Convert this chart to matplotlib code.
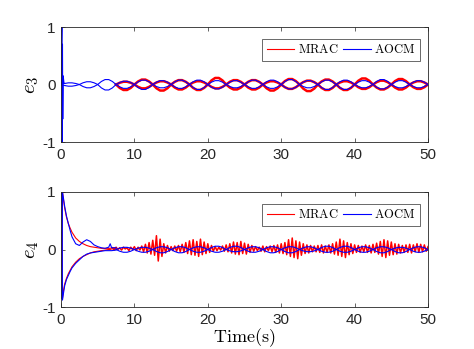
import numpy as np
import matplotlib
matplotlib.use('Agg')
import matplotlib.pyplot as plt
from matplotlib.lines import Line2D

plt.rcParams['font.family'] = ['Liberation Sans', 'DejaVu Sans']
plt.rcParams['mathtext.fontset'] = 'cm'
plt.rcParams['axes.unicode_minus'] = False

# ---- data ----
# e3, start-up spike of AOCM
t_spike3 = [0.0, 0.12, 0.16, 0.2, 0.24, 0.3, 0.4, 0.5]
e3_spike = [0.0, 1.0, -1.0, 0.7, -0.6, 0.15, 0.03, 0.018]

# e3, AOCM (two components), t = 0.5 ... 50 every 0.5 s
t_grid = np.linspace(0.5, 50, 100)
e3_aocm_a = [0.018, 0.029, 0.029, 0.018, 0, -0.035, -0.057, -0.057, -0.035, 0,
             0.053, 0.086, 0.086, 0.053, 0, -0.041, -0.067, -0.067, -0.041, 0,
             0.047, 0.076, 0.076, 0.047, 0, -0.035, -0.057, -0.057, -0.035, 0,
             0.047, 0.076, 0.076, 0.047, 0, -0.053, -0.086, -0.086, -0.053, 0,
             0.041, 0.067, 0.067, 0.041, 0, -0.035, -0.057, -0.057, -0.035, 0,
             0.047, 0.076, 0.076, 0.047, 0, -0.041, -0.067, -0.067, -0.041, 0,
             0.053, 0.086, 0.086, 0.053, 0, -0.035, -0.057, -0.057, -0.035, 0,
             0.047, 0.076, 0.076, 0.047, 0, -0.053, -0.086, -0.086, -0.053, 0,
             0.041, 0.067, 0.067, 0.041, 0, -0.047, -0.076, -0.076, -0.047, 0,
             0.041, 0.067, 0.067, 0.041, 0, -0.035, -0.057, -0.057, -0.035, 0]
e3_aocm_b = [-0.018, -0.029, -0.029, -0.018, 0, 0.03, 0.048, 0.048, 0.03, 0,
             -0.059, -0.095, -0.095, -0.059, 0, 0.035, 0.057, 0.057, 0.035, 0,
             -0.053, -0.086, -0.086, -0.053, 0, 0.041, 0.067, 0.067, 0.041, 0,
             -0.041, -0.067, -0.067, -0.041, 0, 0.047, 0.076, 0.076, 0.047, 0,
             -0.047, -0.076, -0.076, -0.047, 0, 0.041, 0.067, 0.067, 0.041, 0,
             -0.041, -0.067, -0.067, -0.041, 0, 0.047, 0.076, 0.076, 0.047, 0,
             -0.047, -0.076, -0.076, -0.047, 0, 0.041, 0.067, 0.067, 0.041, 0,
             -0.053, -0.086, -0.086, -0.053, 0, 0.047, 0.076, 0.076, 0.047, 0,
             -0.035, -0.057, -0.057, -0.035, 0, 0.053, 0.086, 0.086, 0.053, 0,
             -0.035, -0.057, -0.057, -0.035, 0, 0.041, 0.067, 0.067, 0.041, 0]

# e3, MRAC (two components), t = 7.5 ... 50 every 0.5 s
t_late = np.linspace(7.5, 50, 86)
e3_mrac_a = [0,
             -0.059, -0.095, -0.095, -0.059, 0, 0.053, 0.086, 0.086, 0.053, 0,
             -0.065, -0.105, -0.105, -0.065, 0, 0.047, 0.076, 0.076, 0.047, 0,
             -0.059, -0.095, -0.095, -0.059, 0, 0.071, 0.114, 0.114, 0.071, 0,
             -0.053, -0.086, -0.086, -0.053, 0, 0.047, 0.076, 0.076, 0.047, 0,
             -0.065, -0.105, -0.105, -0.065, 0, 0.059, 0.095, 0.095, 0.059, 0,
             -0.071, -0.114, -0.114, -0.071, 0, 0.053, 0.086, 0.086, 0.053, 0,
             -0.059, -0.095, -0.095, -0.059, 0, 0.065, 0.105, 0.105, 0.065, 0,
             -0.053, -0.086, -0.086, -0.053, 0, 0.059, 0.095, 0.095, 0.059, 0,
             -0.047, -0.076, -0.076, -0.047, 0]
e3_mrac_b = [0,
             0.03, 0.048, 0.048, 0.03, 0, -0.041, -0.067, -0.067, -0.041, 0,
             0.035, 0.057, 0.057, 0.035, 0, -0.053, -0.086, -0.086, -0.053, 0,
             0.035, 0.057, 0.057, 0.035, 0, -0.041, -0.067, -0.067, -0.041, 0,
             0.047, 0.076, 0.076, 0.047, 0, -0.053, -0.086, -0.086, -0.053, 0,
             0.035, 0.057, 0.057, 0.035, 0, -0.047, -0.076, -0.076, -0.047, 0,
             0.041, 0.067, 0.067, 0.041, 0, -0.059, -0.095, -0.095, -0.059, 0,
             0.035, 0.057, 0.057, 0.035, 0, -0.047, -0.076, -0.076, -0.047, 0,
             0.041, 0.067, 0.067, 0.041, 0, -0.053, -0.086, -0.086, -0.053, 0,
             0.035, 0.057, 0.057, 0.035, 0]

# e4, transient part (t = 0.1 ... 7.5)
t_early = [0.1, 0.2, 0.35, 0.5, 0.75, 1.0, 1.25, 1.5, 2.0, 2.5, 3.0,
           3.5, 4.0, 4.5, 5.0, 5.5, 6.0, 6.5, 6.7, 6.9, 7.5]
e4_mrac_up = [-0.3, 1.0, 0.85, 0.72, 0.56, 0.45, 0.37, 0.3, 0.2, 0.14, 0.1,
              0.07, 0.05, 0.04, 0.03, 0.02, 0.02, 0.02, 0.02, 0.03, 0.03]
e4_mrac_lo = [0.3, -0.85, -0.7, -0.6, -0.5, -0.42, -0.36, -0.3, -0.22, -0.16, -0.12,
              -0.09, -0.06, -0.04, -0.03, -0.02, -0.01, 0.0, 0.0, 0.01, 0.02]
e4_aocm_up = [-0.85, 1.0, 0.88, 0.75, 0.58, 0.45, 0.33, 0.22, 0.1, 0.07, 0.13,
              0.17, 0.14, 0.08, 0.05, 0.03, 0.02, 0.04, 0.1, 0.03, 0.03]
e4_aocm_lo = [1.0, -0.88, -0.75, -0.63, -0.52, -0.45, -0.38, -0.32, -0.24, -0.18, -0.12,
              -0.08, -0.06, -0.05, -0.04, -0.03, -0.02, -0.02, -0.02, -0.02, -0.01]

# e4, AOCM steady part, t = 7.5 ... 50 every 0.5 s
e4_aocm_a = [0,
             0.024, 0.038, 0.038, 0.024, 0, -0.03, -0.048, -0.048, -0.03, 0,
             0.03, 0.048, 0.048, 0.03, 0, -0.035, -0.057, -0.057, -0.035, 0,
             0.03, 0.048, 0.048, 0.03, 0, -0.03, -0.048, -0.048, -0.03, 0,
             0.035, 0.057, 0.057, 0.035, 0, -0.03, -0.048, -0.048, -0.03, 0,
             0.03, 0.048, 0.048, 0.03, 0, -0.035, -0.057, -0.057, -0.035, 0,
             0.03, 0.048, 0.048, 0.03, 0, -0.03, -0.048, -0.048, -0.03, 0,
             0.035, 0.057, 0.057, 0.035, 0, -0.03, -0.048, -0.048, -0.03, 0,
             0.03, 0.048, 0.048, 0.03, 0, -0.035, -0.057, -0.057, -0.035, 0,
             0.03, 0.048, 0.048, 0.03, 0]
e4_aocm_b = [0,
             -0.03, -0.048, -0.048, -0.03, 0, 0.024, 0.038, 0.038, 0.024, 0,
             -0.035, -0.057, -0.057, -0.035, 0, 0.03, 0.048, 0.048, 0.03, 0,
             -0.03, -0.048, -0.048, -0.03, 0, 0.035, 0.057, 0.057, 0.035, 0,
             -0.024, -0.038, -0.038, -0.024, 0, 0.03, 0.048, 0.048, 0.03, 0,
             -0.035, -0.057, -0.057, -0.035, 0, 0.03, 0.048, 0.048, 0.03, 0,
             -0.024, -0.038, -0.038, -0.024, 0, 0.035, 0.057, 0.057, 0.035, 0,
             -0.03, -0.048, -0.048, -0.03, 0, 0.03, 0.048, 0.048, 0.03, 0,
             -0.035, -0.057, -0.057, -0.035, 0, 0.024, 0.038, 0.038, 0.024, 0,
             -0.03, -0.048, -0.048, -0.03, 0]

# e4, MRAC noisy part, t = 7 ... 50 every 0.25 s
t_noise = np.linspace(7, 50, 173)
e4_mrac_noise = [0.03, -0.01, 0.04, 0.00, 0.03, -0.01, 0.04, 0.01,
                 0.03, -0.02, 0.04, 0.00, 0.05, -0.02, 0.04, -0.01,
                 0.06, -0.04, 0.09, -0.06, 0.12, -0.08, 0.16, -0.10,
                 0.24, -0.20, 0.18, -0.12, 0.10, -0.06, 0.07, -0.03,
                 0.05, -0.02, 0.06, -0.03, 0.07, -0.04, 0.09, -0.05,
                 0.12, -0.07, 0.15, -0.09, 0.17, -0.10, 0.14, -0.12,
                 0.18, -0.09, 0.13, -0.07, 0.10, -0.05, 0.07, -0.03,
                 0.05, -0.02, 0.04, -0.01, 0.06, -0.03, 0.08, -0.04,
                 0.10, -0.06, 0.13, -0.08, 0.12, -0.09, 0.14, -0.07,
                 0.11, -0.08, 0.09, -0.05, 0.07, -0.03, 0.05, -0.02,
                 0.04, -0.03, 0.06, -0.04, 0.05, -0.02, 0.06, -0.04,
                 0.07, -0.05, 0.08, -0.06, 0.10, -0.07, 0.12, -0.09,
                 0.17, -0.12, 0.20, -0.14, 0.15, -0.16, 0.13, -0.10,
                 0.10, -0.07, 0.08, -0.06, 0.07, -0.04, 0.06, -0.04,
                 0.07, -0.05, 0.08, -0.06, 0.06, -0.05, 0.08, -0.06,
                 0.10, -0.08, 0.13, -0.10, 0.18, -0.12, 0.15, -0.14,
                 0.12, -0.09, 0.10, -0.07, 0.08, -0.05, 0.07, -0.05,
                 0.06, -0.04, 0.08, -0.05, 0.07, -0.06, 0.09, -0.05,
                 0.11, -0.08, 0.14, -0.12, 0.17, -0.14, 0.15, -0.10,
                 0.13, -0.09, 0.10, -0.08, 0.09, -0.06, 0.07, -0.05,
                 0.08, -0.05, 0.09, -0.06, 0.08, -0.04, 0.10, -0.05,
                 0.09, -0.04, 0.08, -0.03, 0.05]

labels = [r'$\mathrm{MRAC}$', r'$\mathrm{AOCM}$']
xticks = [0, 10, 20, 30, 40, 50]
yticks = [-1, 0, 1]

fig = plt.figure(figsize=(4.74, 3.49), dpi=100)
ax1 = fig.add_axes([0.1287, 0.5931, 0.7743, 0.3295])
ax2 = fig.add_axes([0.1287, 0.1203, 0.7743, 0.3296])

# top: e3
ax1.plot(t_late, e3_mrac_a, color='r', lw=1.8)
ax1.plot(t_late, e3_mrac_b, color='r', lw=1.8)
ax1.plot(t_spike3, e3_spike, color='b', lw=0.8)
ax1.plot(t_grid, e3_aocm_a, color='b', lw=0.8)
ax1.plot(t_grid, e3_aocm_b, color='b', lw=0.8)

# bottom: e4
ax2.plot(t_early, e4_mrac_up, color='r', lw=0.8)
ax2.plot(t_early, e4_mrac_lo, color='r', lw=0.8)
ax2.plot(t_noise, e4_mrac_noise, color='r', lw=1.1)
ax2.plot(t_early, e4_aocm_up, color='b', lw=0.8)
ax2.plot(t_early, e4_aocm_lo, color='b', lw=0.8)
ax2.plot(t_late, e4_aocm_a, color='b', lw=0.8)
ax2.plot(t_late, e4_aocm_b, color='b', lw=0.8)

handles = [Line2D([], [], color='r', lw=0.8), Line2D([], [], color='b', lw=0.8)]

for ax, lab in [(ax1, r'$e_3$'), (ax2, r'$e_4$')]:
    ax.set_xlim(0, 50)
    ax.set_ylim(-1, 1)
    ax.set_xticks(xticks)
    ax.set_yticks(yticks)
    ax.tick_params(direction='in', top=True, right=True, length=3, width=0.5,
                   colors='#262626', labelsize=11, pad=4)
    for s in ax.spines.values():
        s.set_linewidth(0.6)
        s.set_color('#262626')
    ax.set_ylabel(lab, fontsize=15, labelpad=1)
    leg = ax.legend(handles, labels, loc='upper right', bbox_to_anchor=(0.978, 0.896),
                    ncol=2, fontsize=9, frameon=True, fancybox=False, borderaxespad=0,
                    borderpad=0.35, handlelength=2.2, handletextpad=0.3,
                    columnspacing=0.4)
    leg.get_frame().set_edgecolor('#262626')
    leg.get_frame().set_linewidth(0.6)

ax2.set_xlabel(r'$\mathrm{Time(s)}$', fontsize=13, labelpad=0)

fig.savefig('out.png', dpi=100)
